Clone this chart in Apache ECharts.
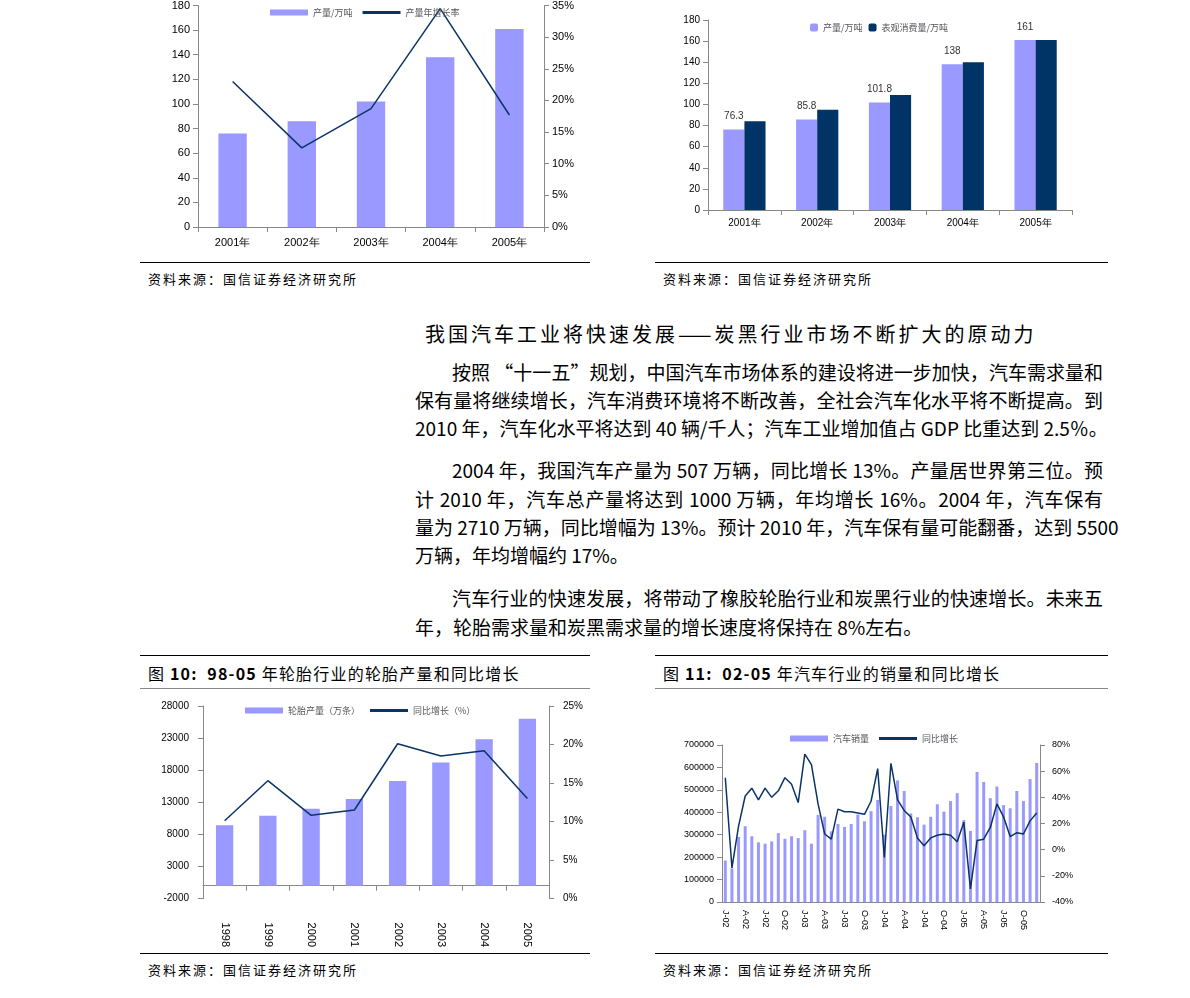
<!DOCTYPE html><html><head><meta charset="utf-8">
<script src="https://cdn.jsdelivr.net/npm/echarts@6/dist/echarts.min.js"></script>
<style>
body{margin:0;width:1190px;height:998px;background:#fff;position:relative;font-family:"Noto Sans CJK SC",sans-serif;color:#000;overflow:hidden}
.c{position:absolute}
.ln{position:absolute;height:1px;background:#000}
.t{position:absolute;white-space:nowrap}
.s{font-size:13px;letter-spacing:2px}
.l{position:absolute;left:415px;width:688px;font-size:19px;line-height:28px;height:28px;white-space:nowrap;text-align:justify;text-align-last:justify}
.l.e{text-align-last:left}
.l.i{left:452px;width:651px}
</style></head><body>
<div id="c1" class="c" style="left:140px;top:0;width:450px;height:260px"></div>
<div id="c2" class="c" style="left:655px;top:0;width:455px;height:260px"></div>
<div id="c3" class="c" style="left:140px;top:690px;width:450px;height:260px"></div>
<div id="c4" class="c" style="left:655px;top:690px;width:455px;height:260px"></div>
<div class="ln" style="left:140px;top:262px;width:450px"></div>
<div class="ln" style="left:655px;top:262px;width:453px"></div>
<div class="t s" style="left:148px;top:269px">资料来源：国信证券经济研究所</div>
<div class="t s" style="left:663px;top:269px">资料来源：国信证券经济研究所</div>
<div class="t" style="left:425px;top:319px;font-size:20px;letter-spacing:3px">我国汽车工业将快速发展——炭黑行业市场不断扩大的原动力</div>
<div class="l i" style="top:358px">按照 “十一五”规划，中国汽车市场体系的建设将进一步加快，汽车需求量和</div>
<div class="l" style="top:386px">保有量将继续增长，汽车消费环境将不断改善，全社会汽车化水平将不断提高。到</div>
<div class="l" style="top:414px">2010 年，汽车化水平将达到 40 辆/千人；汽车工业增加值占 GDP 比重达到 2.5％。</div>
<div class="l i" style="top:456px">2004 年，我国汽车产量为 507 万辆，同比增长 13%。产量居世界第三位。预</div>
<div class="l" style="top:485px">计 2010 年，汽车总产量将达到 1000 万辆，年均增长 16%。2004 年，汽车保有</div>
<div class="l" style="top:513px">量为 2710 万辆，同比增幅为 13%。预计 2010 年，汽车保有量可能翻番，达到 5500</div>
<div class="l e" style="top:541px">万辆，年均增幅约 17%。</div>
<div class="l i" style="top:584px">汽车行业的快速发展，将带动了橡胶轮胎行业和炭黑行业的快速增长。未来五</div>
<div class="l e" style="top:613px">年，轮胎需求量和炭黑需求量的增长速度将保持在 8%左右。</div>
<div class="ln" style="left:140px;top:655px;width:450px"></div>
<div class="ln" style="left:140px;top:688px;width:450px;background:#888"></div>
<div class="ln" style="left:655px;top:655px;width:453px"></div>
<div class="ln" style="left:655px;top:688px;width:453px;background:#888"></div>
<div class="t" style="left:148px;top:661px;font-size:16px;letter-spacing:1.2px">图 <b>10:</b>&nbsp; <b>98-05</b> 年轮胎行业的轮胎产量和同比增长</div>
<div class="t" style="left:663px;top:661px;font-size:16px;letter-spacing:1.2px">图 <b>11:</b>&nbsp; <b>02-05</b> 年汽车行业的销量和同比增长</div>
<div class="ln" style="left:140px;top:953px;width:450px"></div>
<div class="ln" style="left:655px;top:953px;width:453px"></div>
<div class="t s" style="left:148px;top:960px">资料来源：国信证券经济研究所</div>
<div class="t s" style="left:663px;top:960px">资料来源：国信证券经济研究所</div>
<script>
const years1=['2001年','2002年','2003年','2004年','2005年'];
const prod1=[76,86,102,138,161];
const growth1=[23.0,12.5,18.7,34.5,17.7];
const years2=['2001年','2002年','2003年','2004年','2005年'];
const prod2=[76.3,85.8,101.8,138,161];
const cons2=[84,95,109,140,161];
const years3=['1998','1999','2000','2001','2002','2003','2004','2005'];
const tire3=[9400,10900,12000,13500,16300,19200,22800,26000];
const growth3=[10.1,15.3,10.8,11.5,20.1,18.5,19.2,13.0];
const months4=['J-02','F-02','M-02','A-02','M-02','J-02','J-02','A-02','S-02','O-02','N-02','D-02','J-03','F-03','M-03','A-03','M-03','J-03','J-03','A-03','S-03','O-03','N-03','D-03','J-04','F-04','M-04','A-04','M-04','J-04','J-04','A-04','S-04','O-04','N-04','D-04','J-05','F-05','M-05','A-05','M-05','J-05','J-05','A-05','S-05','O-05','N-05','D-05'];
const sales4=[185000,150000,290000,338000,293000,266000,260000,270000,307000,282000,293000,285000,320000,260000,388000,380000,315000,348000,335000,348000,390000,360000,405000,455000,300000,428000,542000,495000,395000,378000,345000,380000,436000,403000,450000,485000,365000,317000,580000,535000,463000,515000,432000,418000,495000,450000,548000,620000];
const growth4=[55,-14,18,41,47,38,47,40,45,55,50,36,73,65,35,12,8,31,29,29,28,27,37,62,-6,66,38,30,25,9,3,9,11,12,11,6,21,-30,7,8,17,35,25,10,13,12,22,28];
const BAR='#9999ff',LINE='#0a3466',F='"Liberation Sans",Arial,sans-serif';
const LICON='path://M0,0h40v3h-40z';
const plain=v=>String(v);
const ax={axisLine:{show:true,lineStyle:{color:'#888'}},axisTick:{show:true,lineStyle:{color:'#888'}},splitLine:{show:false},axisLabel:{color:'#000',fontSize:11,fontFamily:F,formatter:plain}};
function lg(b,l,extra){return Object.assign({top:0,left:'center',itemWidth:38,itemHeight:8,itemGap:10,textStyle:{fontSize:9,fontFamily:'"Noto Sans CJK SC"',padding:[0,0,0,0]},
 data:[{name:b,icon:'rect'},{name:l,icon:LICON,itemStyle:{color:LINE}}]},extra)}
function pct(ax0,o){return Object.assign({},ax0,{axisLabel:Object.assign({},ax0.axisLabel,o,{formatter:'{value}%'})})}
echarts.init(document.getElementById('c1')).setOption({animation:false,
 legend:lg('产量/万吨','产量年增长率',{top:3,left:125,itemHeight:6}),
 grid:{left:58,right:46,top:5,bottom:33},
 xAxis:Object.assign({},ax,{type:'category',data:years1,axisLabel:Object.assign({},ax.axisLabel,{margin:10})}),
 yAxis:[Object.assign({},ax,{min:0,max:180,interval:20}),pct(ax,{})],
 series:[{name:'产量/万吨',type:'bar',data:prod1,barWidth:'41%',itemStyle:{color:BAR}},
 {name:'产量年增长率',type:'line',yAxisIndex:1,data:growth1,symbol:'none',lineStyle:{color:LINE,width:1.5},itemStyle:{color:LINE}}]});
echarts.init(document.getElementById('c2')).setOption({animation:false,
 legend:{top:18,left:150,itemWidth:8,itemHeight:8,itemGap:6,textStyle:{fontSize:9,fontFamily:'"Noto Sans CJK SC"'}},
 grid:{left:53,right:38,top:20,bottom:50},
 xAxis:Object.assign({},ax,{type:'category',data:years2,axisLabel:Object.assign({},ax.axisLabel,{fontSize:10})}),
 yAxis:Object.assign({},ax,{min:0,max:180,interval:20,axisLabel:Object.assign({},ax.axisLabel,{fontSize:10})}),
 series:[{name:'产量/万吨',type:'bar',data:prod2,barWidth:'29%',barGap:'0%',itemStyle:{color:BAR},label:{show:true,position:'top',fontSize:10,fontFamily:F,distance:8}},
 {name:'表观消费量/万吨',type:'bar',data:cons2,barWidth:'29%',itemStyle:{color:'#003366'}}]});
echarts.init(document.getElementById('c3')).setOption({animation:false,
 legend:lg('轮胎产量（万条）','同比增长（%）',{top:11,left:100,itemHeight:6}),
 grid:{left:63,right:41,top:16,bottom:34},
 xAxis:Object.assign({},ax,{type:'category',data:years3,axisLabel:Object.assign({},ax.axisLabel,{rotate:270,fontSize:11,margin:24})}),
 yAxis:[Object.assign({},ax,{min:-2000,max:28000,interval:5000,axisLabel:Object.assign({},ax.axisLabel,{fontSize:10,margin:14})}),pct(ax,{fontSize:10,margin:14})],
 series:[{name:'轮胎产量（万条）',type:'bar',data:tire3,barWidth:'40%',itemStyle:{color:BAR}},
 {name:'同比增长（%）',type:'line',yAxisIndex:1,data:growth3,symbol:'none',lineStyle:{color:LINE,width:1.5},itemStyle:{color:LINE}}]});
echarts.init(document.getElementById('c4')).setOption({animation:false,
 legend:lg('汽车销量','同比增长',{top:39,left:130,itemHeight:6}),
 grid:{left:67,right:70,top:55,bottom:48},
 xAxis:Object.assign({},ax,{type:'category',data:months4,axisTick:{show:false},axisLabel:Object.assign({},ax.axisLabel,{rotate:270,fontSize:9,interval:2,margin:8})}),
 yAxis:[Object.assign({},ax,{min:0,max:700000,interval:100000,axisLabel:Object.assign({},ax.axisLabel,{fontSize:9})}),pct(ax,{fontSize:9,margin:12})],
 series:[{name:'汽车销量',type:'bar',data:sales4,barWidth:'45%',itemStyle:{color:BAR}},
 {name:'同比增长',type:'line',yAxisIndex:1,data:growth4,symbol:'none',lineStyle:{color:LINE,width:1.5},itemStyle:{color:LINE}}]});
</script></body></html>
